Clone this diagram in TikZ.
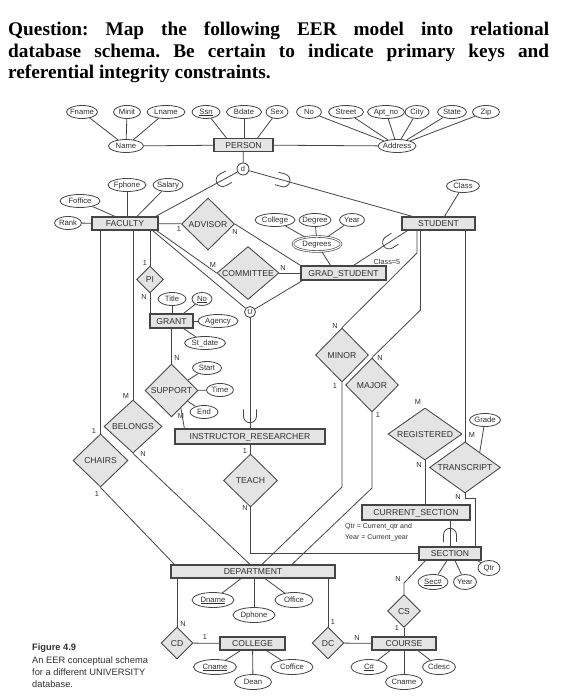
\documentclass[tikz,border=0pt]{standalone}
\usepackage{fontspec}
\setmainfont{Liberation Serif}
\newfontfamily\erfont{Liberation Sans}
\usepackage{tikz}
\usetikzlibrary{shapes.geometric,positioning}
\definecolor{erline}{HTML}{454545}
\definecolor{erfill}{HTML}{E4E4E4}
\definecolor{ertext}{HTML}{303030}
\frenchspacing

\begin{document}
\begin{tikzpicture}[x=1pt,y=-1pt,
	conn/.style={draw=erline,line width=0.8pt},
	total/.style={draw=erline,line width=0.6pt,double=white,double distance=1.2pt},
	entity/.style={rectangle,draw=erline,line width=1.2pt,fill=erfill,inner sep=0pt,minimum height=13,text height=6.2pt,text depth=0pt,text=ertext,font=\erfont\fontsize{8.6}{9}\selectfont},
	relation/.style={diamond,aspect=1,draw=erline,line width=0.85pt,fill=erfill,inner sep=0pt,text height=6.2pt,text depth=0pt,text=ertext,font=\erfont\fontsize{8.6}{9}\selectfont},
	attr/.style={ellipse,draw=erline,line width=0.8pt,fill=white,inner xsep=-1.5pt,inner ysep=0pt,minimum height=13,text height=5.6pt,text depth=1.5pt,text=ertext,font=\erfont\fontsize{7.7}{8}\selectfont},
	multiattr/.style={attr,double=white,double distance=1.1pt,line width=0.65pt},
	circ/.style={circle,draw=erline,line width=0.85pt,fill=white,inner sep=0pt,minimum size=12,text=ertext,font=\erfont\fontsize{7.5}{8}\selectfont},
	card/.style={inner sep=0pt,text=ertext,font=\erfont\fontsize{7.3}{8}\selectfont},
	note/.style={inner sep=0pt,text=ertext,font=\erfont\fontsize{7}{11}\selectfont,align=left},
	subsetmark/.pic={\draw[conn] (7,-6.5) -- (0,-6.5) arc[start angle=270,end angle=90,radius=6.5] -- (7,6.5);}
	]
	\fill[white] (0,0) rectangle (564,700);
	\useasboundingbox (0,0) rectangle (564,700);

	\node[anchor=north west,inner sep=0pt,text width=541,align=justify,font=\fontsize{19.3}{21.5}\selectfont\bfseries] (question) at (8,22)
		{Question: Map the following EER model into relational\linebreak database schema. Be certain to indicate primary keys and\linebreak referential integrity constraints.};

	\node[entity,minimum width=59] (person) at (243.5,145) {PERSON};
	\node[entity,minimum width=66] (faculty) at (125,223.5) {FACULTY};
	\node[entity,minimum width=73] (student) at (438.5,223.5) {STUDENT};
	\node[entity,minimum width=85,minimum height=14] (grad_student) at (343.5,273) {GRAD\_STUDENT};
	\node[entity,minimum width=43,minimum height=14] (grant) at (171.5,321) {GRANT};
	\node[entity,minimum width=150,minimum height=15] (instr_res) at (250,436.5) {INSTRUCTOR\_RESEARCHER};
	\node[entity,minimum width=108,minimum height=15] (curr_section) at (416,512.5) {CURRENT\_SECTION};
	\node[entity,minimum width=62] (section) at (450,553.5) {SECTION};
	\node[entity,minimum width=164] (department) at (253,571.5) {DEPARTMENT};
	\node[entity,minimum width=65] (college) at (252.5,643.5) {COLLEGE};
	\node[entity,minimum width=64] (course) at (404,643.5) {COURSE};

	\node[relation,minimum width=53,minimum height=52] (advisor) at (208,224) {ADVISOR};
	\node[relation,aspect=1.17,minimum width=62,minimum height=53] (committee) at (248,273) {COMMITTEE};
	\node[relation,minimum size=27] (pi) at (150,279.5) {PI};
	\node[relation,minimum width=53,minimum height=53] (support) at (171.5,390.5) {SUPPORT};
	\node[relation,minimum width=58,minimum height=53] (belongs) at (133,426.5) {BELONGS};
	\node[relation,minimum width=55,minimum height=53] (chairs) at (100.5,460.5) {CHAIRS};
	\node[relation,minimum width=54,minimum height=53] (teach) at (250.5,480.5) {TEACH};
	\node[relation,minimum width=53,minimum height=54] (minor) at (342,355) {MINOR};
	\node[relation,minimum width=53,minimum height=54] (major) at (372,385) {MAJOR};
	\node[relation,aspect=1.42,minimum width=74,minimum height=52] (registered) at (425,434) {REGISTERED};
	\node[relation,aspect=1.39,minimum width=71,minimum height=51] (transcript) at (465,467.5) {TRANSCRIPT};
	\node[relation,minimum size=32] (cd) at (177,643) {CD};
	\node[relation,minimum size=32] (dc) at (328,643) {DC};
	\node[relation,minimum size=33] (cs) at (404,611) {CS};

	\node[circ] (d_circ) at (243,169) {d};
	\node[circ,minimum size=11] (u_circ) at (250,312) {U};

	\node[attr,minimum width=31] (fname) at (82,112) {Fname};
	\node[attr,minimum width=27] (minit) at (127,112) {Minit};
	\node[attr,minimum width=38] (lname) at (166,112) {Lname};
	\node[attr,minimum width=28] (ssn) at (206,112) {\underline{Ssn}};
	\node[attr,minimum width=35] (bdate) at (244,112) {Bdate};
	\node[attr,minimum width=22] (sex) at (277,112) {Sex};
	\node[attr,minimum width=25] (no_p) at (309,112) {No};
	\node[attr,minimum width=35] (street) at (346,112) {Street};
	\node[attr,minimum width=37] (apt_no) at (386,112) {Apt\_no};
	\node[attr,minimum width=24] (city) at (417,112) {City};
	\node[attr,minimum width=29] (state) at (452,112) {State};
	\node[attr,minimum width=27] (zip) at (486,112) {Zip};
	\node[attr,minimum width=35] (name) at (126,146) {Name};
	\node[attr,minimum width=38] (address) at (397,146) {Address};
	\node[attr,minimum width=38] (fphone) at (127,185) {Fphone};
	\node[attr,minimum width=30] (salary) at (168,185) {Salary};
	\node[attr,minimum width=40] (foffice) at (80,201) {Foffice};
	\node[attr,minimum width=27] (rank) at (68,223) {Rank};
	\node[attr,minimum width=33] (class) at (463,186) {Class};
	\node[attr,minimum width=40] (college_a) at (275,220) {College};
	\node[attr,minimum width=32] (degree) at (315,220) {Degree};
	\node[attr,minimum width=25] (year_g) at (352,220) {Year};
	\node[multiattr,minimum width=48,minimum height=15] (degrees) at (317,244) {Degrees};
	\node[attr,minimum width=28] (title) at (172,299) {Title};
	\node[attr,minimum width=20] (no_g) at (202,299) {\underline{No}};
	\node[attr,minimum width=40] (agency) at (218,321) {Agency};
	\node[attr,minimum width=41] (st_date) at (205,343) {St\_date};
	\node[attr,minimum width=29] (start) at (207,368) {Start};
	\node[attr,minimum width=27] (time) at (220,390) {Time};
	\node[attr,minimum width=28] (end_s) at (204,412) {End};
	\node[attr,minimum width=31] (grade) at (485,420) {Grade};
	\node[attr,minimum width=22,minimum height=15] (qtr) at (489,568) {Qtr};
	\node[attr,minimum width=30,minimum height=15] (sec_no) at (433,582) {\underline{Sec\#}};
	\node[attr,minimum width=23,minimum height=15] (year_s) at (465,582) {Year};
	\node[attr,minimum width=42,minimum height=15] (dname) at (213,600) {\underline{Dname}};
	\node[attr,minimum width=42,minimum height=15] (dphone) at (254,615) {Dphone};
	\node[attr,minimum width=38,minimum height=15] (office) at (294,600) {Office};
	\node[attr,minimum width=43,minimum height=15] (cname_c) at (215,667) {\underline{Cname}};
	\node[attr,minimum width=37,minimum height=15] (dean) at (253,682) {Dean};
	\node[attr,minimum width=42,minimum height=15] (coffice) at (292,667) {Coffice};
	\node[attr,minimum width=36,minimum height=15] (c_no) at (369,667) {\underline{C\#}};
	\node[attr,minimum width=37,minimum height=15] (cname) at (404,682) {Cname};
	\node[attr,minimum width=33,minimum height=15] (cdesc) at (439,667) {Cdesc};

	\coordinate (mnr_bend) at (417,253);
	\coordinate (mnr_low) at (342,487);
	\coordinate (mjr_bend) at (420.5,310);
	\coordinate (mjr_low) at (372,488);
	\coordinate (trn_bend) at (475,498);
	\coordinate (cs_bend) at (404,583);

	\draw[conn] (fname) -- (name);
	\draw[conn] (minit) -- (name);
	\draw[conn] (lname) -- (name);
	\draw[conn] (name) -- (person);
	\draw[conn] (ssn) -- ([xshift=13pt]person.north west);
	\draw[conn] (bdate) -- (bdate |- person.north);
	\draw[conn] (sex) -- ([xshift=-16pt]person.north east);
	\draw[conn] (person) -- (address);
	\draw[conn] (no_p) -- (address);
	\draw[conn] (street) -- (address);
	\draw[conn] (apt_no) -- (address);
	\draw[conn] (city) -- (address);
	\draw[conn] (state) -- (address);
	\draw[conn] (zip) -- (address);
	\draw[conn] (person) -- (d_circ);
	\draw[conn] ([xshift=-3pt]faculty.north east) -- (d_circ) pic[pos=0.82,sloped,allow upside down]{subsetmark};
	\draw[conn] ([xshift=11pt]student.north west) -- (d_circ) pic[pos=0.79,sloped,allow upside down]{subsetmark};

	\draw[conn] (fphone) -- (fphone |- faculty.north);
	\draw[conn] (salary) -- ([xshift=12pt]faculty.north);
	\draw[conn] (foffice) -- ([xshift=-10pt]faculty.north);
	\draw[conn] (rank) -- (faculty);
	\draw[conn] (class) -- ([xshift=6pt]student.north);

	\draw[conn] (faculty) -- (advisor);
	\draw[conn] (advisor.east) -- (grad_student.north west);
	\draw[conn] ([xshift=-2pt]faculty.south east) -- (committee.west);
	\draw[conn] ([xshift=-6pt]faculty.south east) -- (u_circ);
	\draw[conn] (committee) -- (grad_student);
	\draw[conn] ([xshift=2pt]grad_student.south west) -- (u_circ);
	\draw[conn] (college_a) -- (degrees);
	\draw[conn] (degree) -- (degrees);
	\draw[conn] (year_g) -- (degrees);
	\draw[conn] (degrees) -- ([xshift=-13pt]grad_student.north);
	\draw[conn] ([xshift=10pt]grad_student.north) -- ([xshift=6pt]student.south west) pic[pos=0.66,sloped,allow upside down]{subsetmark};
	\draw[conn] (instr_res.north -| u_circ) -- (u_circ) pic[pos=0.11,sloped,allow upside down]{subsetmark};

	\draw[conn] (pi.north |- faculty.south) -- (pi.north);
	\draw[conn] (pi.south) -- (pi.south |- grant.north);
	\draw[conn] (title) -- (title |- grant.north);
	\draw[conn] (no_g) -- ([xshift=-10pt]grant.north east);
	\draw[conn] (grant) -- (agency);
	\draw[conn] (st_date) -- ([xshift=-10pt]grant.south east);
	\draw[conn] (grant.south) -- (support.north);
	\draw[conn] (support) -- (start);
	\draw[conn] (support) -- (time);
	\draw[conn] (support) -- (end_s);
	\draw[conn] (support.-62) -- ([xshift=10pt]instr_res.north west);

	\draw[conn] (belongs.north |- faculty.south) -- (belongs.north);
	\draw[conn] (belongs.south) -- ([xshift=-3pt]department.north);
	\draw[conn] (chairs.north |- faculty.south) -- (chairs.north);
	\draw[conn] (chairs.south) -- ([xshift=4pt]department.north west);
	\draw[conn] (teach.north |- instr_res.south) -- (teach.north);
	\draw[conn] (teach.south) -- (teach.south |- section.west) -- (section.west);

	\draw[conn] (mnr_bend |- student.south) -- (mnr_bend) -- (minor.north);
	\draw[conn] (minor.south) -- (mnr_low) -- ([xshift=9pt]department.north);
	\draw[conn] (mjr_bend |- student.south) -- (mjr_bend) -- (major.north);
	\draw[conn] (major.south) -- (mjr_low) -- ([xshift=39pt]department.north);
	\draw[total] (registered.north |- student.south) -- (registered.north);
	\draw[conn] (registered.south) -- (registered.south |- curr_section.north);
	\draw[conn] (transcript.north |- student.south) -- (transcript.north);
	\draw[conn] (grade) -- (transcript.46);
	\draw[conn] (transcript.south) -- (transcript.south |- trn_bend) -- (trn_bend) -- (trn_bend |- section.north);
	\draw[conn] (section.north |- curr_section.south) -- (section.north) pic[pos=0.55,sloped,allow upside down]{subsetmark};

	\draw[conn] (sec_no) -- ([xshift=-3pt]section.south);
	\draw[conn] (year_s) -- ([xshift=5pt]section.south);
	\draw[conn] (qtr) -- ([xshift=-4pt]section.south east);
	\draw[conn] ([xshift=7pt]section.south west) -- (cs_bend) -- (cs.north);
	\draw[conn] (cs.south) -- (course.north);
	\draw[conn] (c_no) -- ([xshift=-14pt]course.south);
	\draw[conn] (cname) -- (course);
	\draw[conn] (cdesc) -- ([xshift=14pt]course.south);
	\draw[conn] (dc.north |- department.south) -- (dc.north);
	\draw[conn] (dc) -- (course);
	\draw[conn] (cd.north |- department.south) -- (cd.north);
	\draw[conn] (cd) -- (college);
	\draw[conn] (dname) -- ([xshift=-12pt]department.south);
	\draw[conn] (dphone) -- (dphone |- department.south);
	\draw[conn] (office) -- ([xshift=12pt]department.south);
	\draw[conn] (cname_c) -- ([xshift=-12pt]college.south);
	\draw[conn] (dean) -- (college);
	\draw[conn] (coffice) -- ([xshift=14pt]college.south);

	\node[card] (adv_1) at (179,229) {1};
	\node[card] (adv_n) at (235,232) {N};
	\node[card] (com_m) at (213,265) {M};
	\node[card] (com_n) at (283,268) {N};
	\node[card] (pi_1) at (145,263) {1};
	\node[card] (pi_n) at (144,297) {N};
	\node[card] (sup_n) at (177,358) {N};
	\node[card] (sup_m) at (181,416) {M};
	\node[card] (bel_m) at (126,396) {M};
	\node[card] (bel_n) at (143,454) {N};
	\node[card] (chr_1a) at (94,431) {1};
	\node[card] (chr_1b) at (97,494) {1};
	\node[card] (tch_1) at (245,451) {1};
	\node[card] (tch_n) at (245,508) {N};
	\node[card] (mnr_n) at (335,326) {N};
	\node[card] (mnr_1) at (335,386) {1};
	\node[card] (mjr_n) at (380,358) {N};
	\node[card] (mjr_1) at (378,415) {1};
	\node[card] (reg_m) at (418,402) {M};
	\node[card] (reg_n) at (419,465) {N};
	\node[card] (trn_m) at (472,435) {M};
	\node[card] (trn_n) at (458,497) {N};
	\node[card] (cs_n) at (398,579) {N};
	\node[card] (cs_1) at (397,628) {1};
	\node[card] (dc_1) at (333,622) {1};
	\node[card] (dc_n) at (357,638) {N};
	\node[card] (cd_n) at (183,624) {N};
	\node[card] (cd_1) at (205,637) {1};
	\node[card] (class_5) at (387,262) {Class=5};
	\node[note,anchor=north west] (cur_note) at (345,523) {Qtr = Current\_qtr and\\Year = Current\_year};

	\node[anchor=north west,inner sep=0pt,align=left,text=ertext,font=\erfont\fontsize{9.3}{12.3}\selectfont] (caption) at (32,644)
		{\textbf{Figure 4.9}\\An EER conceptual schema\\for a different UNIVERSITY\\database.};
\end{tikzpicture}
\end{document}
